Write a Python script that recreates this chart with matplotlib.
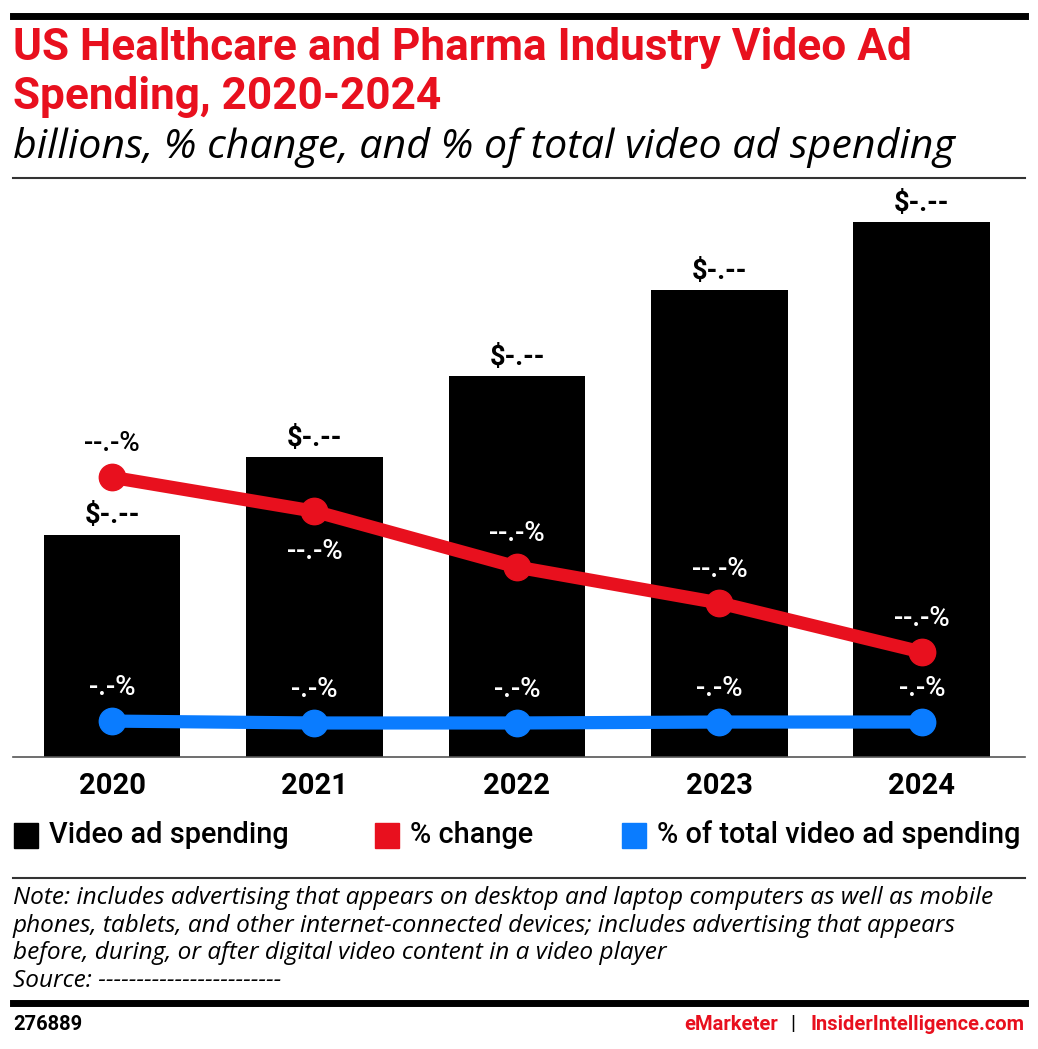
import matplotlib.pyplot as plt
from matplotlib.lines import Line2D
from matplotlib.patches import Rectangle

years = ["2020", "2021", "2022", "2023", "2024"]
spending = [2.35, 3.17, 4.03, 4.94, 5.66]          # billions
pct_change = [29.6, 26.0, 20.1, 16.3, 11.1]         # % change
pct_total = [3.8, 3.6, 3.6, 3.7, 3.7]               # % of total video ad spending
spend_labels = ["$-.--"] * 5
change_labels = ["--.-%"] * 5
total_labels = ["-.-%"] * 5
change_pos = ["above", "below", "above", "above", "above"]
change_colors = ["black", "white", "white", "white", "white"]

RED = "#e8101e"
BLUE = "#0a7cff"
W, H = 1038, 1049

plt.rcParams["font.family"] = ["Roboto", "DejaVu Sans"]
fig = plt.figure(figsize=(W / 100, H / 100), dpi=100)


def fx(x):
    return x / W


def fy(y):
    return 1 - y / H


def hline(y, lw, color="black"):
    fig.add_artist(Line2D([fx(13), fx(1025)], [fy(y), fy(y)], lw=lw, color=color,
                          transform=fig.transFigure))


# header
hline(16, 5)
fig.text(fx(13), fy(48), "US Healthcare and Pharma Industry Video Ad", color=RED,
         fontsize=31.8, fontweight="bold", va="center", ha="left")
fig.text(fx(13), fy(97), "Spending, 2020-2024", color=RED,
         fontsize=31.8, fontweight="bold", va="center", ha="left")
fig.text(fx(13), fy(148), "billions, % change, and % of total video ad spending",
         fontsize=29.6, fontstyle="italic", family="Open Sans", va="center", ha="left")
hline(178, 1.5, "#333333")

# main axes
ax = fig.add_axes([fx(13), fy(757), fx(1025) - fx(13), 567 / H])
x = range(len(years))
ax.bar(x, spending, width=0.676, color="black", zorder=2)
ax.set_xlim(-0.489, 4.509)
ax.set_ylim(0, 6.0)
for s in ["top", "right", "left"]:
    ax.spines[s].set_visible(False)
ax.spines["bottom"].set_color("#555555")
ax.spines["bottom"].set_linewidth(1.2)
ax.set_yticks([])
ax.set_xticks(list(x))
ax.set_xticklabels(years, fontsize=21, fontweight="bold")
ax.tick_params(axis="x", length=0, pad=11)
for i, v in enumerate(spending):
    ax.annotate(spend_labels[i], (i, v), xytext=(0, 4), textcoords="offset points",
                ha="center", va="bottom", fontsize=19.5, fontweight="bold")

ax2 = ax.twinx()
ax2.set_ylim(0, 60)
ax2.set_yticks([])
for s in ax2.spines.values():
    s.set_visible(False)
ax2.plot(x, pct_change, color=RED, lw=9.5, marker="o", markersize=19, zorder=3,
         solid_capstyle="round")
ax2.plot(x, pct_total, color=BLUE, lw=9.5, marker="o", markersize=19, zorder=3,
         solid_capstyle="round")
for i, v in enumerate(pct_change):
    off = 24 if change_pos[i] == "above" else -29
    ax2.annotate(change_labels[i], (i, v), xytext=(0, off), textcoords="offset points",
                 ha="center", va="center", fontsize=20, fontweight="medium",
                 color=change_colors[i])
for i, v in enumerate(pct_total):
    ax2.annotate(total_labels[i], (i, v), xytext=(0, 24), textcoords="offset points",
                 ha="center", va="center", fontsize=20, fontweight="medium", color="white")

# legend
legend_items = [("Video ad spending", "black", 14), ("% change", RED, 375),
                ("% of total video ad spending", BLUE, 622)]
for label, color, x0 in legend_items:
    fig.add_artist(Rectangle((fx(x0), fy(848)), 24 / W, 25 / H, color=color,
                             transform=fig.transFigure))
    fig.text(fx(x0 + 35), fy(835), label, fontsize=20.8, fontweight="medium",
             va="center", ha="left")

# notes
hline(878, 1.5, "#333333")
notes = ["Note: includes advertising that appears on desktop and laptop computers as well as mobile",
         "phones, tablets, and other internet-connected devices; includes advertising that appears",
         "before, during, or after digital video content in a video player",
         "Source: ------------------------"]
for k, line in enumerate(notes):
    fig.text(fx(13), fy(898 + 27.6 * k), line, fontsize=17.6, fontstyle="italic",
             family="Open Sans", va="center", ha="left")
hline(1003, 5)

# footer
fig.text(fx(13), fy(1025), "276889", fontsize=14.5, fontweight="bold", va="center", ha="left")
fig.text(fx(1025), fy(1025), "InsiderIntelligence.com", fontsize=14.5, fontweight="bold",
         color=RED, va="center", ha="right")
fig.text(fx(793), fy(1025), "|", fontsize=14.5, va="center", ha="center")
fig.text(fx(778), fy(1025), "eMarketer", fontsize=14.5, fontweight="bold", color=RED,
         va="center", ha="right")

fig.savefig("out.png", dpi=100)
